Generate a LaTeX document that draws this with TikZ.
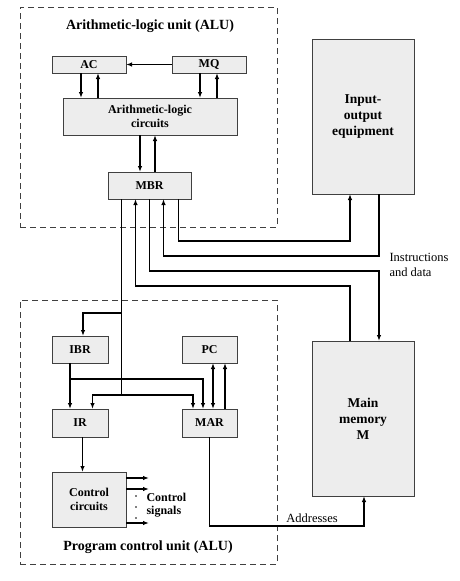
\documentclass[tikz,border=0pt]{standalone}
\usepackage{fontspec}
\setmainfont{Liberation Serif}
\usepackage{tikz}
\usetikzlibrary{positioning}
\usetikzlibrary{calc}
\usetikzlibrary{arrows, shapes, arrows.meta}
\definecolor{boxgray}{rgb}{0.93,0.93,0.93}
\definecolor{edgegray}{rgb}{0.25,0.25,0.25}
\tikzstyle{reg} = [rectangle, draw=edgegray, fill=boxgray, line width=0.9pt, inner sep=0pt, outer sep=0pt, align=center, font=\fontsize{12}{14}\selectfont\bfseries]
\tikzstyle{bigreg} = [reg, minimum width=102pt, minimum height=155pt, font=\fontsize{13.5}{16}\selectfont\bfseries]
\tikzstyle{unit} = [rectangle, draw=edgegray, line width=0.8pt, dash pattern=on 6pt off 4pt, inner sep=0pt, outer sep=0pt]
\tikzstyle{title} = [font=\fontsize{14}{16}\selectfont\bfseries]
\tikzstyle{lbl} = [font=\fontsize{12.5}{15}\selectfont, align=left]
\tikzstyle{bus} = [line width=1.6pt]
\tikzstyle{thinbus} = [line width=0.9pt]
\tikzstyle{arrow} = [line width=1.6pt, -{Latex[length=6pt,width=4.5pt]}]
\tikzstyle{dblarrow} = [line width=1.6pt, {Latex[length=6pt,width=4.5pt]}-{Latex[length=6pt,width=4.5pt]}]

\begin{document}
\begin{tikzpicture}[x=1pt,y=-1pt]
\useasboundingbox (0,0) rectangle (460,581);
% frames
\node[unit, minimum width=257pt, minimum height=220pt] (alu) at (148.5,117) {};
\node[unit, minimum width=257pt, minimum height=264pt] (pcu) at (148.5,432) {};
\node[title] (alutitle) at (150,26) {Arithmetic-logic unit (ALU)};
\node[title] (pcutitle) at (148,547) {Program control unit (ALU)};
% registers
\node[reg, minimum width=74pt, minimum height=17pt] (ac) at (89,64.5) {AC};
\node[reg, minimum width=74pt, minimum height=17pt] (mq) at (209,64.5) {MQ};
\node[reg, minimum width=174pt, minimum height=37pt] (alc) at (150,116.5) {Arithmetic-logic\\circuits};
\node[reg, minimum width=83pt, minimum height=27pt] (mbr) at (149.5,185.5) {MBR};
\node[reg, minimum width=56pt, minimum height=27pt] (ibr) at (80,349.5) {IBR};
\node[reg, minimum width=55pt, minimum height=27pt] (pc) at (209.5,349.5) {PC};
\node[reg, minimum width=56pt, minimum height=28pt] (ir) at (80,423) {IR};
\node[reg, minimum width=55pt, minimum height=28pt] (mar) at (209.5,423) {MAR};
\node[reg, minimum width=74pt, minimum height=55pt] (cc) at (89,499.5) {Control\\circuits};
\node[bigreg] (io) at (363,116.5) {Input-\\output\\equipment};
\node[bigreg] (mem) at (363,418.5) {Main\\memory\\M};
% ALU paths
\draw[arrow] (mq.west) -- (ac.east);
\draw[arrow] ([xshift=-8pt]ac.south) -- ([xshift=-8pt]ac.south |- alc.north);
\draw[arrow] ([xshift=9pt]ac.south |- alc.north) -- ([xshift=9pt]ac.south);
\draw[arrow] ([xshift=-9pt]mq.south) -- ([xshift=-9pt]mq.south |- alc.north);
\draw[arrow] ([xshift=8pt]mq.south |- alc.north) -- ([xshift=8pt]mq.south);
\draw[arrow] ([xshift=-9.5pt]mbr.north |- alc.south) -- ([xshift=-9.5pt]mbr.north);
\draw[arrow] ([xshift=5.5pt]mbr.north) -- ([xshift=5.5pt]mbr.north |- alc.south);
% MBR to I/O and memory
\draw[arrow] ([xshift=29pt]mbr.south) -- ++(0,42) -| ([xshift=-13pt]io.south);
\draw[arrow] ([xshift=16pt]io.south) -- ++(0,62) -| ([xshift=14pt]mbr.south);
\draw[arrow] (mbr.south) -- ++(0,72) -| ([xshift=16pt]mem.north);
\draw[arrow] ([xshift=-13pt]mem.north) -- ++(0,-55) -| ([xshift=-14pt]mbr.south);
\node[lbl, anchor=west] (insn) at (386,264.5) {Instructions\\and data};
% MBR to program control unit
\draw[thinbus] ([xshift=-28pt]mbr.south) -- ++(0,196) coordinate (tapir);
\path ([xshift=-28pt]mbr.south) ++(0,114) coordinate (tapibr);
\draw[arrow] (tapibr) -| ([xshift=3pt]ibr.north);
\draw[arrow] (tapir) -| ([xshift=12.5pt]ir.north);
\draw[arrow] (tapir) -| ([xshift=-16.5pt]mar.north);
% program control unit
\draw[arrow] ([xshift=-10pt]ibr.south) -- ([xshift=-10pt]ir.north);
\path ([xshift=-10pt]ibr.south) ++(0,16) coordinate (tapmar);
\draw[arrow] (tapmar) -| ([xshift=-6.5pt]mar.north);
\draw[dblarrow] ([xshift=3.5pt]mar.north) -- ([xshift=3.5pt]pc.south);
\draw[arrow] ([xshift=15.5pt]mar.north) -- ([xshift=15.5pt]pc.south);
\draw[arrow] ([xshift=2.5pt]ir.south) -- ([xshift=2.5pt]ir.south |- cc.north);
\draw[arrow] ([yshift=21.5pt]cc.east) -- ++(23,0);
\draw[arrow] ([yshift=10.5pt]cc.east) -- ++(23,0);
\draw[arrow] ([yshift=-23.5pt]cc.east) -- ++(23,0);
\fill (136,496) circle (0.9pt);
\fill (136,507) circle (0.9pt);
\fill (136,518) circle (0.9pt);
\node[lbl, anchor=west, font=\fontsize{12}{13}\selectfont\bfseries] (sig) at (143,505.5) {Control\\signals};
% addresses
\draw[arrow] (mar.south) -- ++(0,89) -| ([xshift=1pt]mem.south);
\node[lbl] (addr) at (312,518) {Addresses};
\end{tikzpicture}
\end{document}
